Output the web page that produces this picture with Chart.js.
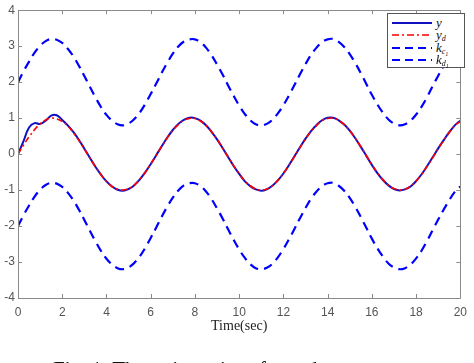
<!DOCTYPE html>
<html>
<head>
<meta charset="utf-8">
<script src="https://cdn.jsdelivr.net/npm/chart.js@4.4.1/dist/chart.umd.min.js"></script>
<style>
  html, body { margin:0; padding:0; background:#fff; overflow:hidden; }
  #wrap { position:relative; width:474px; height:363px; overflow:hidden; }
  #c { position:absolute; left:0; top:0; }
  #legend { position:absolute; left:387px; top:13px; width:78px; height:55px; border:1px solid #555; background:#fff; box-sizing:border-box; }
  .row { position:absolute; left:4px; height:12px; display:flex; align-items:center; }
  .row span { font-family:"Liberation Serif","DejaVu Serif",serif; font-style:italic; font-size:13px; color:#111; margin-left:4px; line-height:12px; }
  .row sub { font-size:8px; vertical-align:-2px; line-height:0; }
  .row sub sub { font-size:6px; }
  #caption { position:absolute; left:53px; top:359px; font-family:"Liberation Serif","DejaVu Serif",serif; font-size:21px; color:#111; white-space:nowrap; line-height:21px; }
</style>
</head>
<body>
<div id="wrap">
  <canvas id="c" width="474" height="363"></canvas>
  <div id="legend">
    <div class="row" style="top:3px"><svg width="40" height="4"><line x1="0" y1="2" x2="40" y2="2" stroke="#1010c0" stroke-width="2"/></svg><span>y</span></div>
    <div class="row" style="top:15px"><svg width="40" height="4"><line x1="0" y1="2" x2="40" y2="2" stroke="#ff0000" stroke-width="1.6" stroke-dasharray="7 3 2 3"/></svg><span>y<sub>d</sub></span></div>
    <div class="row" style="top:28px"><svg width="40" height="4"><line x1="0" y1="2" x2="40" y2="2" stroke="#0000ff" stroke-width="2" stroke-dasharray="8 5"/></svg><span>k<sub>c<sub>1</sub></sub></span></div>
    <div class="row" style="top:40px"><svg width="40" height="4"><line x1="0" y1="2" x2="40" y2="2" stroke="#0000ff" stroke-width="2" stroke-dasharray="8 5"/></svg><span>k<sub>d<sub>1</sub></sub></span></div>
  </div>
  <div id="caption">Fig. 1. The trajectories of y and y<sub style="font-size:14px">d</sub></div>
</div>
<script>
// Time axis samples (sec)
const time = [0,0.25,0.5,0.75,1,1.25,1.5,1.75,2,2.25,2.5,2.75,3,3.25,3.5,3.75,4,4.25,4.5,4.75,5,5.25,5.5,5.75,6,6.25,6.5,6.75,7,7.25,7.5,7.75,8,8.25,8.5,8.75,9,9.25,9.5,9.75,10,10.25,10.5,10.75,11,11.25,11.5,11.75,12,12.25,12.5,12.75,13,13.25,13.5,13.75,14,14.25,14.5,14.75,15,15.25,15.5,15.75,16,16.25,16.5,16.75,17,17.25,17.5,17.75,18,18.25,18.5,18.75,19,19.25,19.5,19.75,20];

// y (actual output)
const yOut = [0,0.36,0.74,0.86,0.84,0.93,1.07,1.08,0.95,0.80,0.62,0.40,0.15,-0.10,-0.35,-0.57,-0.76,-0.90,-0.99,-1.02,-0.97,-0.87,-0.71,-0.51,-0.28,-0.03,0.22,0.46,0.67,0.84,0.95,1.01,1.00,0.93,0.80,0.62,0.41,0.17,-0.08,-0.33,-0.55,-0.75,-0.89,-0.98,-1.02,-0.98,-0.88,-0.73,-0.54,-0.31,-0.06,0.19,0.43,0.64,0.81,0.94,1.01,1.01,0.94,0.82,0.65,0.44,0.20,-0.05,-0.30,-0.53,-0.72,-0.87,-0.97,-1.01,-0.98,-0.90,-0.75,-0.56,-0.33,-0.09,0.16,0.39,0.61,0.80,0.93];

// y_d (desired output)
const yDes = [0,0.25,0.48,0.68,0.84,0.95,1.00,0.98,0.91,0.78,0.60,0.38,0.14,-0.11,-0.35,-0.57,-0.76,-0.90,-0.98,-1.00,-0.96,-0.86,-0.71,-0.51,-0.28,-0.03,0.22,0.45,0.66,0.82,0.94,0.99,0.99,0.92,0.80,0.62,0.41,0.17,-0.08,-0.32,-0.54,-0.74,-0.88,-0.97,-1.00,-0.97,-0.88,-0.73,-0.54,-0.31,-0.07,0.18,0.42,0.63,0.80,0.93,0.99,1.00,0.94,0.82,0.65,0.44,0.21,-0.04,-0.29,-0.52,-0.71,-0.87,-0.96,-1.00,-0.98,-0.89,-0.75,-0.56,-0.34,-0.10,0.15,0.38,0.60,0.79,0.91];

// k_c1 (upper bound)
const kc1 = [2.00,2.30,2.57,2.82,3.01,3.14,3.20,3.18,3.09,2.93,2.72,2.46,2.17,1.87,1.58,1.31,1.09,0.93,0.83,0.80,0.85,0.97,1.15,1.39,1.67,1.96,2.26,2.54,2.79,2.99,3.13,3.19,3.19,3.11,2.96,2.75,2.49,2.21,1.91,1.62,1.35,1.12,0.94,0.83,0.80,0.84,0.95,1.13,1.36,1.63,1.92,2.22,2.50,2.76,2.96,3.11,3.19,3.20,3.12,2.98,2.78,2.53,2.25,1.95,1.65,1.38,1.15,0.96,0.85,0.80,0.83,0.93,1.10,1.32,1.59,1.89,2.18,2.46,2.72,2.95,3.10];

// k_d1 (lower bound)
const kd1 = [-2.00,-1.70,-1.43,-1.18,-0.99,-0.86,-0.80,-0.82,-0.91,-1.07,-1.28,-1.54,-1.83,-2.13,-2.42,-2.69,-2.91,-3.07,-3.17,-3.20,-3.15,-3.03,-2.85,-2.61,-2.33,-2.04,-1.74,-1.46,-1.21,-1.01,-0.87,-0.81,-0.81,-0.89,-1.04,-1.25,-1.51,-1.79,-2.09,-2.38,-2.65,-2.88,-3.06,-3.17,-3.20,-3.16,-3.05,-2.87,-2.64,-2.37,-2.08,-1.78,-1.50,-1.24,-1.04,-0.89,-0.81,-0.80,-0.88,-1.02,-1.22,-1.47,-1.75,-2.05,-2.35,-2.62,-2.85,-3.04,-3.15,-3.20,-3.17,-3.07,-2.90,-2.68,-2.41,-2.11,-1.82,-1.54,-1.28,-1.05,-0.90];

const xTicks = [0,2,4,6,8,10,12,14,16,18,20];
const yTicks = [-4,-3,-2,-1,0,1,2,3,4];

const pts = arr => time.map((t,i) => ({x:t, y:arr[i]}));

const framePlugin = {
  id: 'frame',
  afterDatasetsDraw(chart) {
    const {ctx, chartArea:a, scales:{x, y}} = chart;
    ctx.save();
    ctx.strokeStyle = '#8a8a8a';
    ctx.lineWidth = 1;
    ctx.beginPath();
    ctx.rect(Math.round(a.left)+0.5, Math.round(a.top)+0.5, Math.round(a.right-a.left), Math.round(a.bottom-a.top));
    ctx.stroke();
    ctx.beginPath();
    const L = 4;
    xTicks.forEach(v => {
      const px = Math.round(x.getPixelForValue(v)) + 0.5;
      ctx.moveTo(px, a.bottom); ctx.lineTo(px, a.bottom - L);
      ctx.moveTo(px, a.top); ctx.lineTo(px, a.top + L);
    });
    yTicks.forEach(v => {
      const py = Math.round(y.getPixelForValue(v)) + 0.5;
      ctx.moveTo(a.left, py); ctx.lineTo(a.left + L, py);
      ctx.moveTo(a.right, py); ctx.lineTo(a.right - L, py);
    });
    ctx.stroke();
    ctx.restore();
  }
};

new Chart(document.getElementById('c'), {
  type: 'line',
  data: {
    datasets: [
      { label:'y', data: pts(yOut), borderColor:'#1010c0', borderWidth:2, pointRadius:0, tension:0.4, order:2 },
      { label:'yd', data: pts(yDes), borderColor:'#ff0000', borderWidth:1.6, borderDash:[6,3,2,3], pointRadius:0, tension:0.4, order:1 },
      { label:'kc1', data: pts(kc1), borderColor:'#0000ff', borderWidth:2.2, borderDash:[9,6], pointRadius:0, tension:0.4, order:3 },
      { label:'kd1', data: pts(kd1), borderColor:'#0000ff', borderWidth:2.2, borderDash:[9,6], pointRadius:0, tension:0.4, order:4 }
    ]
  },
  options: {
    responsive: false,
    animation: false,
    layout: { padding: { top:5, right:9, left:0, bottom:28 } },
    plugins: { legend: { display:false }, tooltip: { enabled:false } },
    scales: {
      x: {
        type: 'linear', min:0, max:20,
        afterBuildTicks: s => { s.ticks = xTicks.map(v => ({value:v})); },
        afterFit: s => { s.height = 37; },
        grid: { display:false, drawTicks:false },
        border: { display:false },
        ticks: { padding:7, color:'#555', font:{ family:'"Liberation Sans", Arial, sans-serif', size:12 }, maxRotation:0, autoSkip:false },
        title: { display:true, text:'Time(sec)', color:'#222', padding:{top:0, bottom:0}, font:{ family:'"Liberation Serif","DejaVu Serif",serif', size:14 } }
      },
      y: {
        min:-4, max:4,
        afterBuildTicks: s => { s.ticks = yTicks.map(v => ({value:v})); },
        afterFit: s => { s.width = 18; },
        grid: { display:false, drawTicks:false },
        border: { display:false },
        ticks: { padding:3, color:'#555', font:{ family:'"Liberation Sans", Arial, sans-serif', size:12 } }
      }
    }
  },
  plugins: [framePlugin]
});
</script>
</body>
</html>
